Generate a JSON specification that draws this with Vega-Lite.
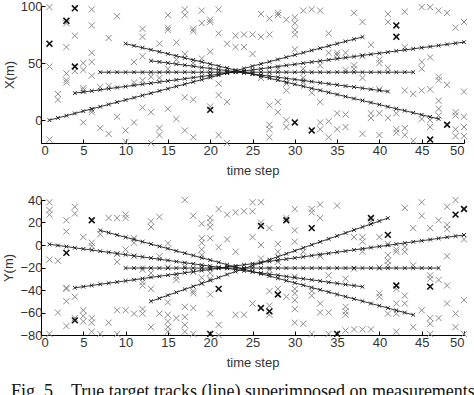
{
  "$schema": "https://vega.github.io/schema/vega-lite/v6.json",
  "background": "white",
  "padding": {"left": 2, "top": 0, "right": 4, "bottom": 0},
  "spacing": 57,
  "bounds": "flush",
  "config": {
    "view": {"stroke": null},
    "axis": {
      "grid": false,
      "domainColor": "#000",
      "domainWidth": 1,
      "tickColor": "#000",
      "tickSize": -4,
      "labelFont": "Liberation Sans",
      "labelFontSize": 13,
      "labelColor": "#333",
      "titleFont": "Liberation Sans",
      "titleFontSize": 13,
      "titleFontWeight": "normal",
      "titleColor": "#333"
    },
    "axisX": {"labelPadding": 5, "titlePadding": 7},
    "axisY": {"labelPadding": 3, "titlePadding": 4}
  },
  "title": {
    "text": "Fig. 5.\u00a0\u00a0\u00a0True target tracks (line) superimposed on measurements.",
    "orient": "bottom",
    "anchor": "start",
    "frame": "bounds",
    "font": "Liberation Serif",
    "fontSize": 18,
    "fontWeight": "normal",
    "color": "#111",
    "offset": 14,
    "dx": 8
  },
  "datasets": {
    "trX": [
      {"k":"A","t":1,"v":0},{"k":"A","t":2,"v":2.0},{"k":"A","t":3,"v":3.9},{"k":"A","t":4,"v":5.9},{"k":"A","t":5,"v":7.9},{"k":"A","t":6,"v":9.9},{"k":"A","t":7,"v":11.8},{"k":"A","t":8,"v":13.8},{"k":"A","t":9,"v":15.8},{"k":"A","t":10,"v":17.7},{"k":"A","t":11,"v":19.7},{"k":"A","t":12,"v":21.7},{"k":"A","t":13,"v":23.6},{"k":"A","t":14,"v":25.6},{"k":"A","t":15,"v":27.6},{"k":"A","t":16,"v":29.6},{"k":"A","t":17,"v":31.5},{"k":"A","t":18,"v":33.5},{"k":"A","t":19,"v":35.5},{"k":"A","t":20,"v":37.4},{"k":"A","t":21,"v":39.4},{"k":"A","t":22,"v":41.4},{"k":"A","t":23,"v":43.3},{"k":"A","t":24,"v":45.3},{"k":"A","t":25,"v":47.3},{"k":"A","t":26,"v":49.3},{"k":"A","t":27,"v":51.2},{"k":"A","t":28,"v":53.2},{"k":"A","t":29,"v":55.2},{"k":"A","t":30,"v":57.1},{"k":"A","t":31,"v":59.1},{"k":"A","t":32,"v":61.1},{"k":"A","t":33,"v":63.0},{"k":"A","t":34,"v":65.0},{"k":"A","t":35,"v":67.0},{"k":"A","t":36,"v":69.0},{"k":"A","t":37,"v":70.9},{"k":"A","t":38,"v":72.9},
      {"k":"B","t":4,"v":23.7},{"k":"B","t":5,"v":24.7},{"k":"B","t":6,"v":25.6},{"k":"B","t":7,"v":26.6},{"k":"B","t":8,"v":27.6},{"k":"B","t":9,"v":28.6},{"k":"B","t":10,"v":29.5},{"k":"B","t":11,"v":30.5},{"k":"B","t":12,"v":31.5},{"k":"B","t":13,"v":32.4},{"k":"B","t":14,"v":33.4},{"k":"B","t":15,"v":34.4},{"k":"B","t":16,"v":35.3},{"k":"B","t":17,"v":36.3},{"k":"B","t":18,"v":37.3},{"k":"B","t":19,"v":38.3},{"k":"B","t":20,"v":39.2},{"k":"B","t":21,"v":40.2},{"k":"B","t":22,"v":41.2},{"k":"B","t":23,"v":42.1},{"k":"B","t":24,"v":43.1},{"k":"B","t":25,"v":44.1},{"k":"B","t":26,"v":45.0},{"k":"B","t":27,"v":46.0},{"k":"B","t":28,"v":47.0},{"k":"B","t":29,"v":48.0},{"k":"B","t":30,"v":48.9},{"k":"B","t":31,"v":49.9},{"k":"B","t":32,"v":50.9},{"k":"B","t":33,"v":51.8},{"k":"B","t":34,"v":52.8},{"k":"B","t":35,"v":53.8},{"k":"B","t":36,"v":54.7},{"k":"B","t":37,"v":55.7},{"k":"B","t":38,"v":56.7},{"k":"B","t":39,"v":57.7},{"k":"B","t":40,"v":58.6},{"k":"B","t":41,"v":59.6},{"k":"B","t":42,"v":60.6},{"k":"B","t":43,"v":61.5},{"k":"B","t":44,"v":62.5},{"k":"B","t":45,"v":63.5},{"k":"B","t":46,"v":64.4},{"k":"B","t":47,"v":65.4},{"k":"B","t":48,"v":66.4},{"k":"B","t":49,"v":67.4},{"k":"B","t":50,"v":68.3},
      {"k":"C","t":7,"v":42},{"k":"C","t":8,"v":42},{"k":"C","t":9,"v":42},{"k":"C","t":10,"v":42},{"k":"C","t":11,"v":42},{"k":"C","t":12,"v":42},{"k":"C","t":13,"v":42},{"k":"C","t":14,"v":42},{"k":"C","t":15,"v":42},{"k":"C","t":16,"v":42},{"k":"C","t":17,"v":42},{"k":"C","t":18,"v":42},{"k":"C","t":19,"v":42},{"k":"C","t":20,"v":42},{"k":"C","t":21,"v":42},{"k":"C","t":22,"v":42},{"k":"C","t":23,"v":42},{"k":"C","t":24,"v":42},{"k":"C","t":25,"v":42},{"k":"C","t":26,"v":42},{"k":"C","t":27,"v":42},{"k":"C","t":28,"v":42},{"k":"C","t":29,"v":42},{"k":"C","t":30,"v":42},{"k":"C","t":31,"v":42},{"k":"C","t":32,"v":42},{"k":"C","t":33,"v":42},{"k":"C","t":34,"v":42},{"k":"C","t":35,"v":42},{"k":"C","t":36,"v":42},{"k":"C","t":37,"v":42},{"k":"C","t":38,"v":42},{"k":"C","t":39,"v":42},{"k":"C","t":40,"v":42},{"k":"C","t":41,"v":42},{"k":"C","t":42,"v":42},{"k":"C","t":43,"v":42},{"k":"C","t":44,"v":42},
      {"k":"D","t":10,"v":67},{"k":"D","t":11,"v":65.2},{"k":"D","t":12,"v":63.4},{"k":"D","t":13,"v":61.7},{"k":"D","t":14,"v":59.9},{"k":"D","t":15,"v":58.1},{"k":"D","t":16,"v":56.3},{"k":"D","t":17,"v":54.5},{"k":"D","t":18,"v":52.8},{"k":"D","t":19,"v":51.0},{"k":"D","t":20,"v":49.2},{"k":"D","t":21,"v":47.4},{"k":"D","t":22,"v":45.6},{"k":"D","t":23,"v":43.9},{"k":"D","t":24,"v":42.1},{"k":"D","t":25,"v":40.3},{"k":"D","t":26,"v":38.5},{"k":"D","t":27,"v":36.7},{"k":"D","t":28,"v":35.0},{"k":"D","t":29,"v":33.2},{"k":"D","t":30,"v":31.4},{"k":"D","t":31,"v":29.6},{"k":"D","t":32,"v":27.8},{"k":"D","t":33,"v":26.1},{"k":"D","t":34,"v":24.3},{"k":"D","t":35,"v":22.5},{"k":"D","t":36,"v":20.7},{"k":"D","t":37,"v":18.9},{"k":"D","t":38,"v":17.2},{"k":"D","t":39,"v":15.4},{"k":"D","t":40,"v":13.6},{"k":"D","t":41,"v":11.8},{"k":"D","t":42,"v":10.0},{"k":"D","t":43,"v":8.3},{"k":"D","t":44,"v":6.5},{"k":"D","t":45,"v":4.7},{"k":"D","t":46,"v":2.9},{"k":"D","t":47,"v":1.1},
      {"k":"E","t":13,"v":52},{"k":"E","t":14,"v":51.0},{"k":"E","t":15,"v":50.1},{"k":"E","t":16,"v":49.1},{"k":"E","t":17,"v":48.2},{"k":"E","t":18,"v":47.2},{"k":"E","t":19,"v":46.2},{"k":"E","t":20,"v":45.3},{"k":"E","t":21,"v":44.3},{"k":"E","t":22,"v":43.4},{"k":"E","t":23,"v":42.4},{"k":"E","t":24,"v":41.4},{"k":"E","t":25,"v":40.5},{"k":"E","t":26,"v":39.5},{"k":"E","t":27,"v":38.6},{"k":"E","t":28,"v":37.6},{"k":"E","t":29,"v":36.6},{"k":"E","t":30,"v":35.7},{"k":"E","t":31,"v":34.7},{"k":"E","t":32,"v":33.8},{"k":"E","t":33,"v":32.8},{"k":"E","t":34,"v":31.8},{"k":"E","t":35,"v":30.9},{"k":"E","t":36,"v":29.9},{"k":"E","t":37,"v":29.0},{"k":"E","t":38,"v":28.0},{"k":"E","t":39,"v":27.0},{"k":"E","t":40,"v":26.1},{"k":"E","t":41,"v":25.1}
    ],
    "clX": [
      {"t":1,"v":99},{"t":1,"v":47},{"t":1,"v":-17},{"t":2,"v":23},{"t":2,"v":18},{"t":3,"v":87},{"t":3,"v":85},{"t":3,"v":64},{"t":3,"v":41},{"t":3,"v":33},{"t":3,"v":35},{"t":4,"v":74},{"t":4,"v":43},{"t":5,"v":50},{"t":5,"v":44},{"t":5,"v":28},{"t":5,"v":26},{"t":5,"v":-2},{"t":6,"v":97},{"t":6,"v":83},{"t":6,"v":59},{"t":6,"v":51},{"t":6,"v":39},{"t":6,"v":7},{"t":6,"v":9},{"t":7,"v":29},{"t":7,"v":-7},{"t":8,"v":72},{"t":8,"v":-12},{"t":9,"v":91},{"t":9,"v":3},{"t":10,"v":-9},{"t":10,"v":-19},{"t":11,"v":51},{"t":11,"v":-2},{"t":12,"v":80},{"t":12,"v":73},{"t":12,"v":56},{"t":12,"v":35},{"t":12,"v":11},{"t":13,"v":7},{"t":13,"v":-20},{"t":14,"v":67},{"t":14,"v":-7},{"t":14,"v":-13},{"t":15,"v":92},{"t":15,"v":81},{"t":15,"v":79},{"t":15,"v":10},{"t":16,"v":68},{"t":16,"v":1},{"t":17,"v":97},{"t":17,"v":92},{"t":17,"v":20},{"t":17,"v":-9},{"t":18,"v":80},{"t":18,"v":78},{"t":18,"v":18},{"t":18,"v":-15},{"t":19,"v":96},{"t":19,"v":85},{"t":20,"v":88},{"t":20,"v":86},{"t":20,"v":60},{"t":20,"v":12},{"t":21,"v":97},{"t":21,"v":76},{"t":21,"v":32},{"t":21,"v":22},{"t":21,"v":-13},{"t":22,"v":67},{"t":22,"v":16},{"t":22,"v":-20},{"t":23,"v":74},{"t":23,"v":64},
      {"t":24,"v":75},{"t":25,"v":75},{"t":26,"v":73},{"t":27,"v":75},{"t":24,"v":64},{"t":25,"v":58},{"t":26,"v":93},{"t":27,"v":89},{"t":28,"v":94},{"t":28,"v":92},{"t":29,"v":88},{"t":30,"v":90},{"t":30,"v":85},{"t":30,"v":79},{"t":30,"v":75},{"t":31,"v":96},{"t":32,"v":97},{"t":33,"v":96},{"t":34,"v":76},{"t":37,"v":94},{"t":38,"v":86},{"t":41,"v":93},{"t":41,"v":86},{"t":43,"v":95},{"t":45,"v":99},{"t":46,"v":99},{"t":47,"v":96},{"t":48,"v":94},{"t":49,"v":81},{"t":50,"v":86},
      {"t":27,"v":13},{"t":28,"v":16},{"t":28,"v":7},{"t":29,"v":0},{"t":29,"v":-6},{"t":27,"v":-4},{"t":27,"v":-8},{"t":27,"v":-15},{"t":33,"v":-2},{"t":33,"v":-8},{"t":34,"v":-1},{"t":34,"v":-15},{"t":35,"v":-8},{"t":35,"v":6},{"t":36,"v":5},{"t":36,"v":-6},{"t":38,"v":-12},{"t":39,"v":6},{"t":39,"v":2},{"t":40,"v":6},{"t":40,"v":-13},{"t":41,"v":2},{"t":42,"v":6},{"t":42,"v":-8},{"t":42,"v":-11},{"t":43,"v":-7},{"t":43,"v":-13},{"t":44,"v":-18},{"t":45,"v":1},{"t":46,"v":0},{"t":46,"v":-6},{"t":47,"v":4},{"t":47,"v":10},{"t":47,"v":17},{"t":49,"v":7},{"t":49,"v":4},{"t":49,"v":-8},{"t":49,"v":-14},{"t":50,"v":3},{"t":50,"v":-6},{"t":50,"v":-14},{"t":50,"v":25},{"t":48,"v":31},{"t":47,"v":35},{"t":45,"v":26},{"t":46,"v":27},{"t":43,"v":26},{"t":44,"v":23},{"t":45,"v":51},{"t":46,"v":55},{"t":40,"v":53},{"t":40,"v":50},{"t":41,"v":46},{"t":38,"v":37},{"t":37,"v":48},{"t":37,"v":45},{"t":39,"v":66},{"t":29,"v":26},{"t":29,"v":32},{"t":32,"v":24},{"t":33,"v":16},{"t":34,"v":59},{"t":35,"v":59},{"t":36,"v":59},{"t":31,"v":33},{"t":31,"v":37},
      {"t":8,"v":30},{"t":11,"v":33},{"t":13,"v":38},{"t":14,"v":37},{"t":15,"v":45},{"t":16,"v":53},{"t":17,"v":58},{"t":18,"v":50},{"t":19,"v":54},{"t":20,"v":40},{"t":26,"v":37},{"t":28,"v":45},{"t":30,"v":62},{"t":31,"v":45},{"t":33,"v":48},{"t":35,"v":57},{"t":36,"v":44},{"t":38,"v":56},{"t":40,"v":27},{"t":43,"v":64},{"t":45,"v":45},{"t":47,"v":38}
    ],
    "dkX": [
      {"t":1,"v":67},{"t":4,"v":98},{"t":4,"v":47},{"t":20,"v":9},{"t":30,"v":-2},{"t":32,"v":-9},{"t":42,"v":83},{"t":42,"v":73},{"t":46,"v":-17},{"t":48,"v":-4},{"t":3,"v":87}
    ],
    "trY": [
      {"k":"P","t":1,"v":0.6},{"k":"P","t":2,"v":-0.4},{"k":"P","t":3,"v":-1.4},{"k":"P","t":4,"v":-2.5},{"k":"P","t":5,"v":-3.5},{"k":"P","t":6,"v":-4.5},{"k":"P","t":7,"v":-5.5},{"k":"P","t":8,"v":-6.5},{"k":"P","t":9,"v":-7.6},{"k":"P","t":10,"v":-8.6},{"k":"P","t":11,"v":-9.6},{"k":"P","t":12,"v":-10.6},{"k":"P","t":13,"v":-11.6},{"k":"P","t":14,"v":-12.7},{"k":"P","t":15,"v":-13.7},{"k":"P","t":16,"v":-14.7},{"k":"P","t":17,"v":-15.7},{"k":"P","t":18,"v":-16.7},{"k":"P","t":19,"v":-17.8},{"k":"P","t":20,"v":-18.8},{"k":"P","t":21,"v":-19.8},{"k":"P","t":22,"v":-20.8},{"k":"P","t":23,"v":-21.8},{"k":"P","t":24,"v":-22.9},{"k":"P","t":25,"v":-23.9},{"k":"P","t":26,"v":-24.9},{"k":"P","t":27,"v":-25.9},{"k":"P","t":28,"v":-26.9},{"k":"P","t":29,"v":-28.0},{"k":"P","t":30,"v":-29.0},{"k":"P","t":31,"v":-30.0},{"k":"P","t":32,"v":-31.0},{"k":"P","t":33,"v":-32.0},{"k":"P","t":34,"v":-33.1},{"k":"P","t":35,"v":-34.1},{"k":"P","t":36,"v":-35.1},{"k":"P","t":37,"v":-36.1},{"k":"P","t":38,"v":-37.1},
      {"k":"Q","t":4,"v":-38},{"k":"Q","t":5,"v":-37.0},{"k":"Q","t":6,"v":-36.0},{"k":"Q","t":7,"v":-34.9},{"k":"Q","t":8,"v":-33.9},{"k":"Q","t":9,"v":-32.9},{"k":"Q","t":10,"v":-31.9},{"k":"Q","t":11,"v":-30.9},{"k":"Q","t":12,"v":-29.8},{"k":"Q","t":13,"v":-28.8},{"k":"Q","t":14,"v":-27.8},{"k":"Q","t":15,"v":-26.8},{"k":"Q","t":16,"v":-25.8},{"k":"Q","t":17,"v":-24.7},{"k":"Q","t":18,"v":-23.7},{"k":"Q","t":19,"v":-22.7},{"k":"Q","t":20,"v":-21.7},{"k":"Q","t":21,"v":-20.7},{"k":"Q","t":22,"v":-19.6},{"k":"Q","t":23,"v":-18.6},{"k":"Q","t":24,"v":-17.6},{"k":"Q","t":25,"v":-16.6},{"k":"Q","t":26,"v":-15.6},{"k":"Q","t":27,"v":-14.5},{"k":"Q","t":28,"v":-13.5},{"k":"Q","t":29,"v":-12.5},{"k":"Q","t":30,"v":-11.5},{"k":"Q","t":31,"v":-10.5},{"k":"Q","t":32,"v":-9.4},{"k":"Q","t":33,"v":-8.4},{"k":"Q","t":34,"v":-7.4},{"k":"Q","t":35,"v":-6.4},{"k":"Q","t":36,"v":-5.4},{"k":"Q","t":37,"v":-4.3},{"k":"Q","t":38,"v":-3.3},{"k":"Q","t":39,"v":-2.3},{"k":"Q","t":40,"v":-1.3},{"k":"Q","t":41,"v":-0.3},{"k":"Q","t":42,"v":0.8},{"k":"Q","t":43,"v":1.8},{"k":"Q","t":44,"v":2.8},{"k":"Q","t":45,"v":3.8},{"k":"Q","t":46,"v":4.8},{"k":"Q","t":47,"v":5.9},{"k":"Q","t":48,"v":6.9},{"k":"Q","t":49,"v":7.9},{"k":"Q","t":50,"v":8.9},
      {"k":"R","t":10,"v":-20.5},{"k":"R","t":11,"v":-20.5},{"k":"R","t":12,"v":-20.5},{"k":"R","t":13,"v":-20.5},{"k":"R","t":14,"v":-20.5},{"k":"R","t":15,"v":-20.5},{"k":"R","t":16,"v":-20.5},{"k":"R","t":17,"v":-20.5},{"k":"R","t":18,"v":-20.5},{"k":"R","t":19,"v":-20.5},{"k":"R","t":20,"v":-20.5},{"k":"R","t":21,"v":-20.5},{"k":"R","t":22,"v":-20.5},{"k":"R","t":23,"v":-20.5},{"k":"R","t":24,"v":-20.5},{"k":"R","t":25,"v":-20.5},{"k":"R","t":26,"v":-20.5},{"k":"R","t":27,"v":-20.5},{"k":"R","t":28,"v":-20.5},{"k":"R","t":29,"v":-20.5},{"k":"R","t":30,"v":-20.5},{"k":"R","t":31,"v":-20.5},{"k":"R","t":32,"v":-20.5},{"k":"R","t":33,"v":-20.5},{"k":"R","t":34,"v":-20.5},{"k":"R","t":35,"v":-20.5},{"k":"R","t":36,"v":-20.5},{"k":"R","t":37,"v":-20.5},{"k":"R","t":38,"v":-20.5},{"k":"R","t":39,"v":-20.5},{"k":"R","t":40,"v":-20.5},{"k":"R","t":41,"v":-20.5},{"k":"R","t":42,"v":-20.5},{"k":"R","t":43,"v":-20.5},{"k":"R","t":44,"v":-20.5},{"k":"R","t":45,"v":-20.5},{"k":"R","t":46,"v":-20.5},{"k":"R","t":47,"v":-20.5},
      {"k":"S","t":7,"v":13},{"k":"S","t":8,"v":11.0},{"k":"S","t":9,"v":8.9},{"k":"S","t":10,"v":6.9},{"k":"S","t":11,"v":4.9},{"k":"S","t":12,"v":2.9},{"k":"S","t":13,"v":0.8},{"k":"S","t":14,"v":-1.2},{"k":"S","t":15,"v":-3.2},{"k":"S","t":16,"v":-5.3},{"k":"S","t":17,"v":-7.3},{"k":"S","t":18,"v":-9.3},{"k":"S","t":19,"v":-11.4},{"k":"S","t":20,"v":-13.4},{"k":"S","t":21,"v":-15.4},{"k":"S","t":22,"v":-17.5},{"k":"S","t":23,"v":-19.5},{"k":"S","t":24,"v":-21.5},{"k":"S","t":25,"v":-23.5},{"k":"S","t":26,"v":-25.6},{"k":"S","t":27,"v":-27.6},{"k":"S","t":28,"v":-29.6},{"k":"S","t":29,"v":-31.7},{"k":"S","t":30,"v":-33.7},{"k":"S","t":31,"v":-35.7},{"k":"S","t":32,"v":-37.8},{"k":"S","t":33,"v":-39.8},{"k":"S","t":34,"v":-41.8},{"k":"S","t":35,"v":-43.9},{"k":"S","t":36,"v":-45.9},{"k":"S","t":37,"v":-47.9},{"k":"S","t":38,"v":-49.9},{"k":"S","t":39,"v":-52.0},{"k":"S","t":40,"v":-54.0},{"k":"S","t":41,"v":-56.0},{"k":"S","t":42,"v":-58.1},{"k":"S","t":43,"v":-60.1},{"k":"S","t":44,"v":-62.1},
      {"k":"T","t":13,"v":-50},{"k":"T","t":14,"v":-47.4},{"k":"T","t":15,"v":-44.7},{"k":"T","t":16,"v":-42.1},{"k":"T","t":17,"v":-39.4},{"k":"T","t":18,"v":-36.8},{"k":"T","t":19,"v":-34.2},{"k":"T","t":20,"v":-31.5},{"k":"T","t":21,"v":-28.9},{"k":"T","t":22,"v":-26.2},{"k":"T","t":23,"v":-23.6},{"k":"T","t":24,"v":-21.0},{"k":"T","t":25,"v":-18.3},{"k":"T","t":26,"v":-15.7},{"k":"T","t":27,"v":-13.0},{"k":"T","t":28,"v":-10.4},{"k":"T","t":29,"v":-7.8},{"k":"T","t":30,"v":-5.1},{"k":"T","t":31,"v":-2.5},{"k":"T","t":32,"v":0.2},{"k":"T","t":33,"v":2.8},{"k":"T","t":34,"v":5.4},{"k":"T","t":35,"v":8.1},{"k":"T","t":36,"v":10.7},{"k":"T","t":37,"v":13.4},{"k":"T","t":38,"v":16.0},{"k":"T","t":39,"v":18.6},{"k":"T","t":40,"v":21.3},{"k":"T","t":41,"v":23.9}
    ],
    "clY": [
      {"t":1,"v":38},{"t":1,"v":31},{"t":1,"v":27},{"t":1,"v":-13},{"t":1,"v":-79},{"t":2,"v":-14},{"t":2,"v":-60},{"t":3,"v":22},{"t":3,"v":12},{"t":3,"v":-39},{"t":3,"v":-38},{"t":3,"v":-50},{"t":3,"v":-72},{"t":4,"v":34},{"t":4,"v":28},{"t":4,"v":-46},{"t":4,"v":-65},{"t":5,"v":7},{"t":5,"v":-58},{"t":5,"v":-63},{"t":5,"v":-68},{"t":6,"v":2},{"t":6,"v":-1},{"t":6,"v":-65},{"t":6,"v":-69},{"t":6,"v":-77},{"t":7,"v":9.5},{"t":7,"v":-79},{"t":8,"v":24},{"t":8,"v":-69},{"t":9,"v":24},{"t":9,"v":-15},{"t":9,"v":-58},{"t":9,"v":-79},{"t":10,"v":27},{"t":10,"v":24},{"t":10,"v":-4},{"t":10,"v":-58},{"t":11,"v":6},{"t":11,"v":2},{"t":11,"v":-61},{"t":12,"v":-57},{"t":12,"v":-61},{"t":12,"v":-33},{"t":12,"v":-36},{"t":13,"v":21},{"t":13,"v":16},{"t":13,"v":-25},{"t":13,"v":-39},{"t":13,"v":-73},{"t":14,"v":25},{"t":14,"v":-61},{"t":15,"v":1.5},{"t":15,"v":-51},{"t":15,"v":-62},{"t":15,"v":-68},{"t":15,"v":-73},{"t":15,"v":-77},{"t":16,"v":-65},{"t":16,"v":-31},{"t":17,"v":40},{"t":17,"v":-55},{"t":17,"v":-64},{"t":17,"v":-71},{"t":17,"v":-77},{"t":18,"v":26},{"t":18,"v":-56},{"t":18,"v":-41},{"t":18,"v":-43},{"t":18,"v":-79},{"t":19,"v":19},{"t":19,"v":6},{"t":19,"v":2},{"t":19,"v":-4},{"t":19,"v":-9},{"t":19,"v":-29},{"t":19,"v":-34},{"t":20,"v":24},{"t":20,"v":20},{"t":20,"v":16},{"t":20,"v":6},{"t":20,"v":-25},{"t":20,"v":-30},{"t":20,"v":-44},{"t":20,"v":-61},{"t":21,"v":32},{"t":21,"v":-2},{"t":21,"v":-71},{"t":21,"v":-80},{"t":22,"v":27},{"t":22,"v":5},{"t":23,"v":29},{"t":23,"v":-62},{"t":23,"v":-6},
      {"t":25,"v":38},{"t":26,"v":38},{"t":24,"v":30},{"t":25,"v":30},{"t":26,"v":20},{"t":27,"v":15},{"t":25,"v":7},{"t":26,"v":0},{"t":28,"v":1},{"t":28,"v":-6},{"t":29,"v":24},{"t":30,"v":32},{"t":30,"v":13},{"t":30,"v":3},{"t":32,"v":32},{"t":32,"v":29},{"t":33,"v":36},{"t":33,"v":24},{"t":35,"v":35},{"t":37,"v":7},{"t":38,"v":7},{"t":38,"v":3},{"t":39,"v":21},{"t":40,"v":7},{"t":41,"v":1},{"t":41,"v":-9},{"t":41,"v":-14},{"t":41,"v":-18},{"t":42,"v":-6},{"t":43,"v":33},{"t":43,"v":-2},{"t":43,"v":-6},{"t":44,"v":15},{"t":45,"v":38},{"t":45,"v":26},{"t":46,"v":15},{"t":47,"v":22},{"t":48,"v":34},{"t":48,"v":18},{"t":48,"v":14},{"t":48,"v":-10},{"t":49,"v":40},{"t":50,"v":5},
      {"t":46,"v":-27},{"t":46,"v":-30},{"t":47,"v":-31},{"t":48,"v":-36},{"t":42,"v":-39},{"t":43,"v":-45},{"t":43,"v":-52},{"t":42,"v":-52},{"t":42,"v":-61},{"t":41,"v":-61},{"t":40,"v":-43},{"t":40,"v":-46},{"t":45,"v":-58},{"t":46,"v":-65},{"t":46,"v":-70},{"t":47,"v":-65},{"t":48,"v":-52},{"t":50,"v":-49},{"t":49,"v":-61},{"t":49,"v":-73},{"t":46,"v":-79},{"t":50,"v":-79},{"t":44,"v":-73},{"t":42,"v":-77},{"t":39,"v":-75},{"t":38,"v":-75},{"t":37,"v":-75},{"t":36,"v":-76},{"t":34,"v":-79},{"t":32,"v":-79},{"t":36,"v":-55},{"t":36,"v":-59},{"t":36,"v":-62},{"t":34,"v":-60},{"t":33,"v":-60},{"t":32,"v":-41},{"t":32,"v":-45},{"t":30,"v":-39},{"t":30,"v":-43},{"t":30,"v":-49},{"t":30,"v":-57},{"t":31,"v":-70},{"t":30,"v":-69},{"t":28,"v":-39},{"t":27,"v":-41},{"t":27,"v":-54},{"t":27,"v":-62},{"t":25,"v":-52},{"t":24,"v":-62},{"t":29,"v":-46},{"t":33,"v":-52},
      {"t":9,"v":-8},{"t":11,"v":-10},{"t":12,"v":-22},{"t":14,"v":-10},{"t":15,"v":-20},{"t":16,"v":-28},{"t":17,"v":-19},{"t":18,"v":-24},{"t":19,"v":-20},{"t":26,"v":-12},{"t":27,"v":-22},{"t":28,"v":-15},{"t":30,"v":-28},{"t":31,"v":-6},{"t":33,"v":-10},{"t":34,"v":-27},{"t":36,"v":-30},{"t":37,"v":-21},{"t":38,"v":-6},{"t":40,"v":-20},{"t":42,"v":-4},{"t":44,"v":-18}
    ],
    "dkY": [
      {"t":3,"v":-7},{"t":4,"v":-67},{"t":6,"v":22},{"t":20,"v":-79},{"t":21,"v":-39},{"t":26,"v":17},{"t":29,"v":22},{"t":32,"v":15},{"t":39,"v":24},{"t":41,"v":9},{"t":49,"v":27},{"t":50,"v":32},{"t":46,"v":-37},{"t":42,"v":-36},{"t":35,"v":-79},{"t":28,"v":-44},{"t":27,"v":-59},{"t":26,"v":-56}
    ]
  },
  "vconcat": [
    {
      "width": 423,
      "height": 137,
      "encoding": {
        "x": {"field": "t", "type": "quantitative", "scale": {"domain": [0, 50], "nice": false, "zero": false},
              "axis": {"title": "time step", "values": [0,5,10,15,20,25,30,35,40,45,50]}},
        "y": {"field": "v", "type": "quantitative", "scale": {"domain": [-20, 100], "nice": false, "zero": false},
              "axis": {"title": "X(m)", "values": [0, 50, 100]}}
      },
      "layer": [
        {"data": {"name": "clX"}, "mark": {"type": "point", "shape": "M-1,-1L1,1M1,-1L-1,1", "filled": false, "size": 38, "stroke": "#8c8c8c", "strokeWidth": 1, "opacity": 1}},
        {"data": {"name": "dkX"}, "mark": {"type": "point", "shape": "M-1,-1L1,1M1,-1L-1,1", "filled": false, "size": 34, "stroke": "#111", "strokeWidth": 1.6, "opacity": 1}},
        {"data": {"name": "trX"}, "mark": {"type": "line", "color": "#000", "strokeWidth": 0.8}, "encoding": {"detail": {"field": "k"}}},
        {"data": {"name": "trX"}, "mark": {"type": "point", "shape": "M-1,-1L1,1M1,-1L-1,1", "filled": false, "size": 14, "stroke": "#222", "strokeWidth": 1, "opacity": 1}}
      ]
    },
    {
      "width": 423,
      "height": 135,
      "encoding": {
        "x": {"field": "t", "type": "quantitative", "scale": {"domain": [0, 50], "nice": false, "zero": false},
              "axis": {"title": "time step", "values": [0,5,10,15,20,25,30,35,40,45,50]}},
        "y": {"field": "v", "type": "quantitative", "scale": {"domain": [-80, 40], "nice": false, "zero": false},
              "axis": {"title": "Y(m)", "values": [-80,-60,-40,-20,0,20,40]}}
      },
      "layer": [
        {"data": {"name": "clY"}, "mark": {"type": "point", "shape": "M-1,-1L1,1M1,-1L-1,1", "filled": false, "size": 38, "stroke": "#8c8c8c", "strokeWidth": 1, "opacity": 1}},
        {"data": {"name": "dkY"}, "mark": {"type": "point", "shape": "M-1,-1L1,1M1,-1L-1,1", "filled": false, "size": 34, "stroke": "#111", "strokeWidth": 1.6, "opacity": 1}},
        {"data": {"name": "trY"}, "mark": {"type": "line", "color": "#000", "strokeWidth": 0.8}, "encoding": {"detail": {"field": "k"}}},
        {"data": {"name": "trY"}, "mark": {"type": "point", "shape": "M-1,-1L1,1M1,-1L-1,1", "filled": false, "size": 14, "stroke": "#222", "strokeWidth": 1, "opacity": 1}}
      ]
    }
  ]
}
